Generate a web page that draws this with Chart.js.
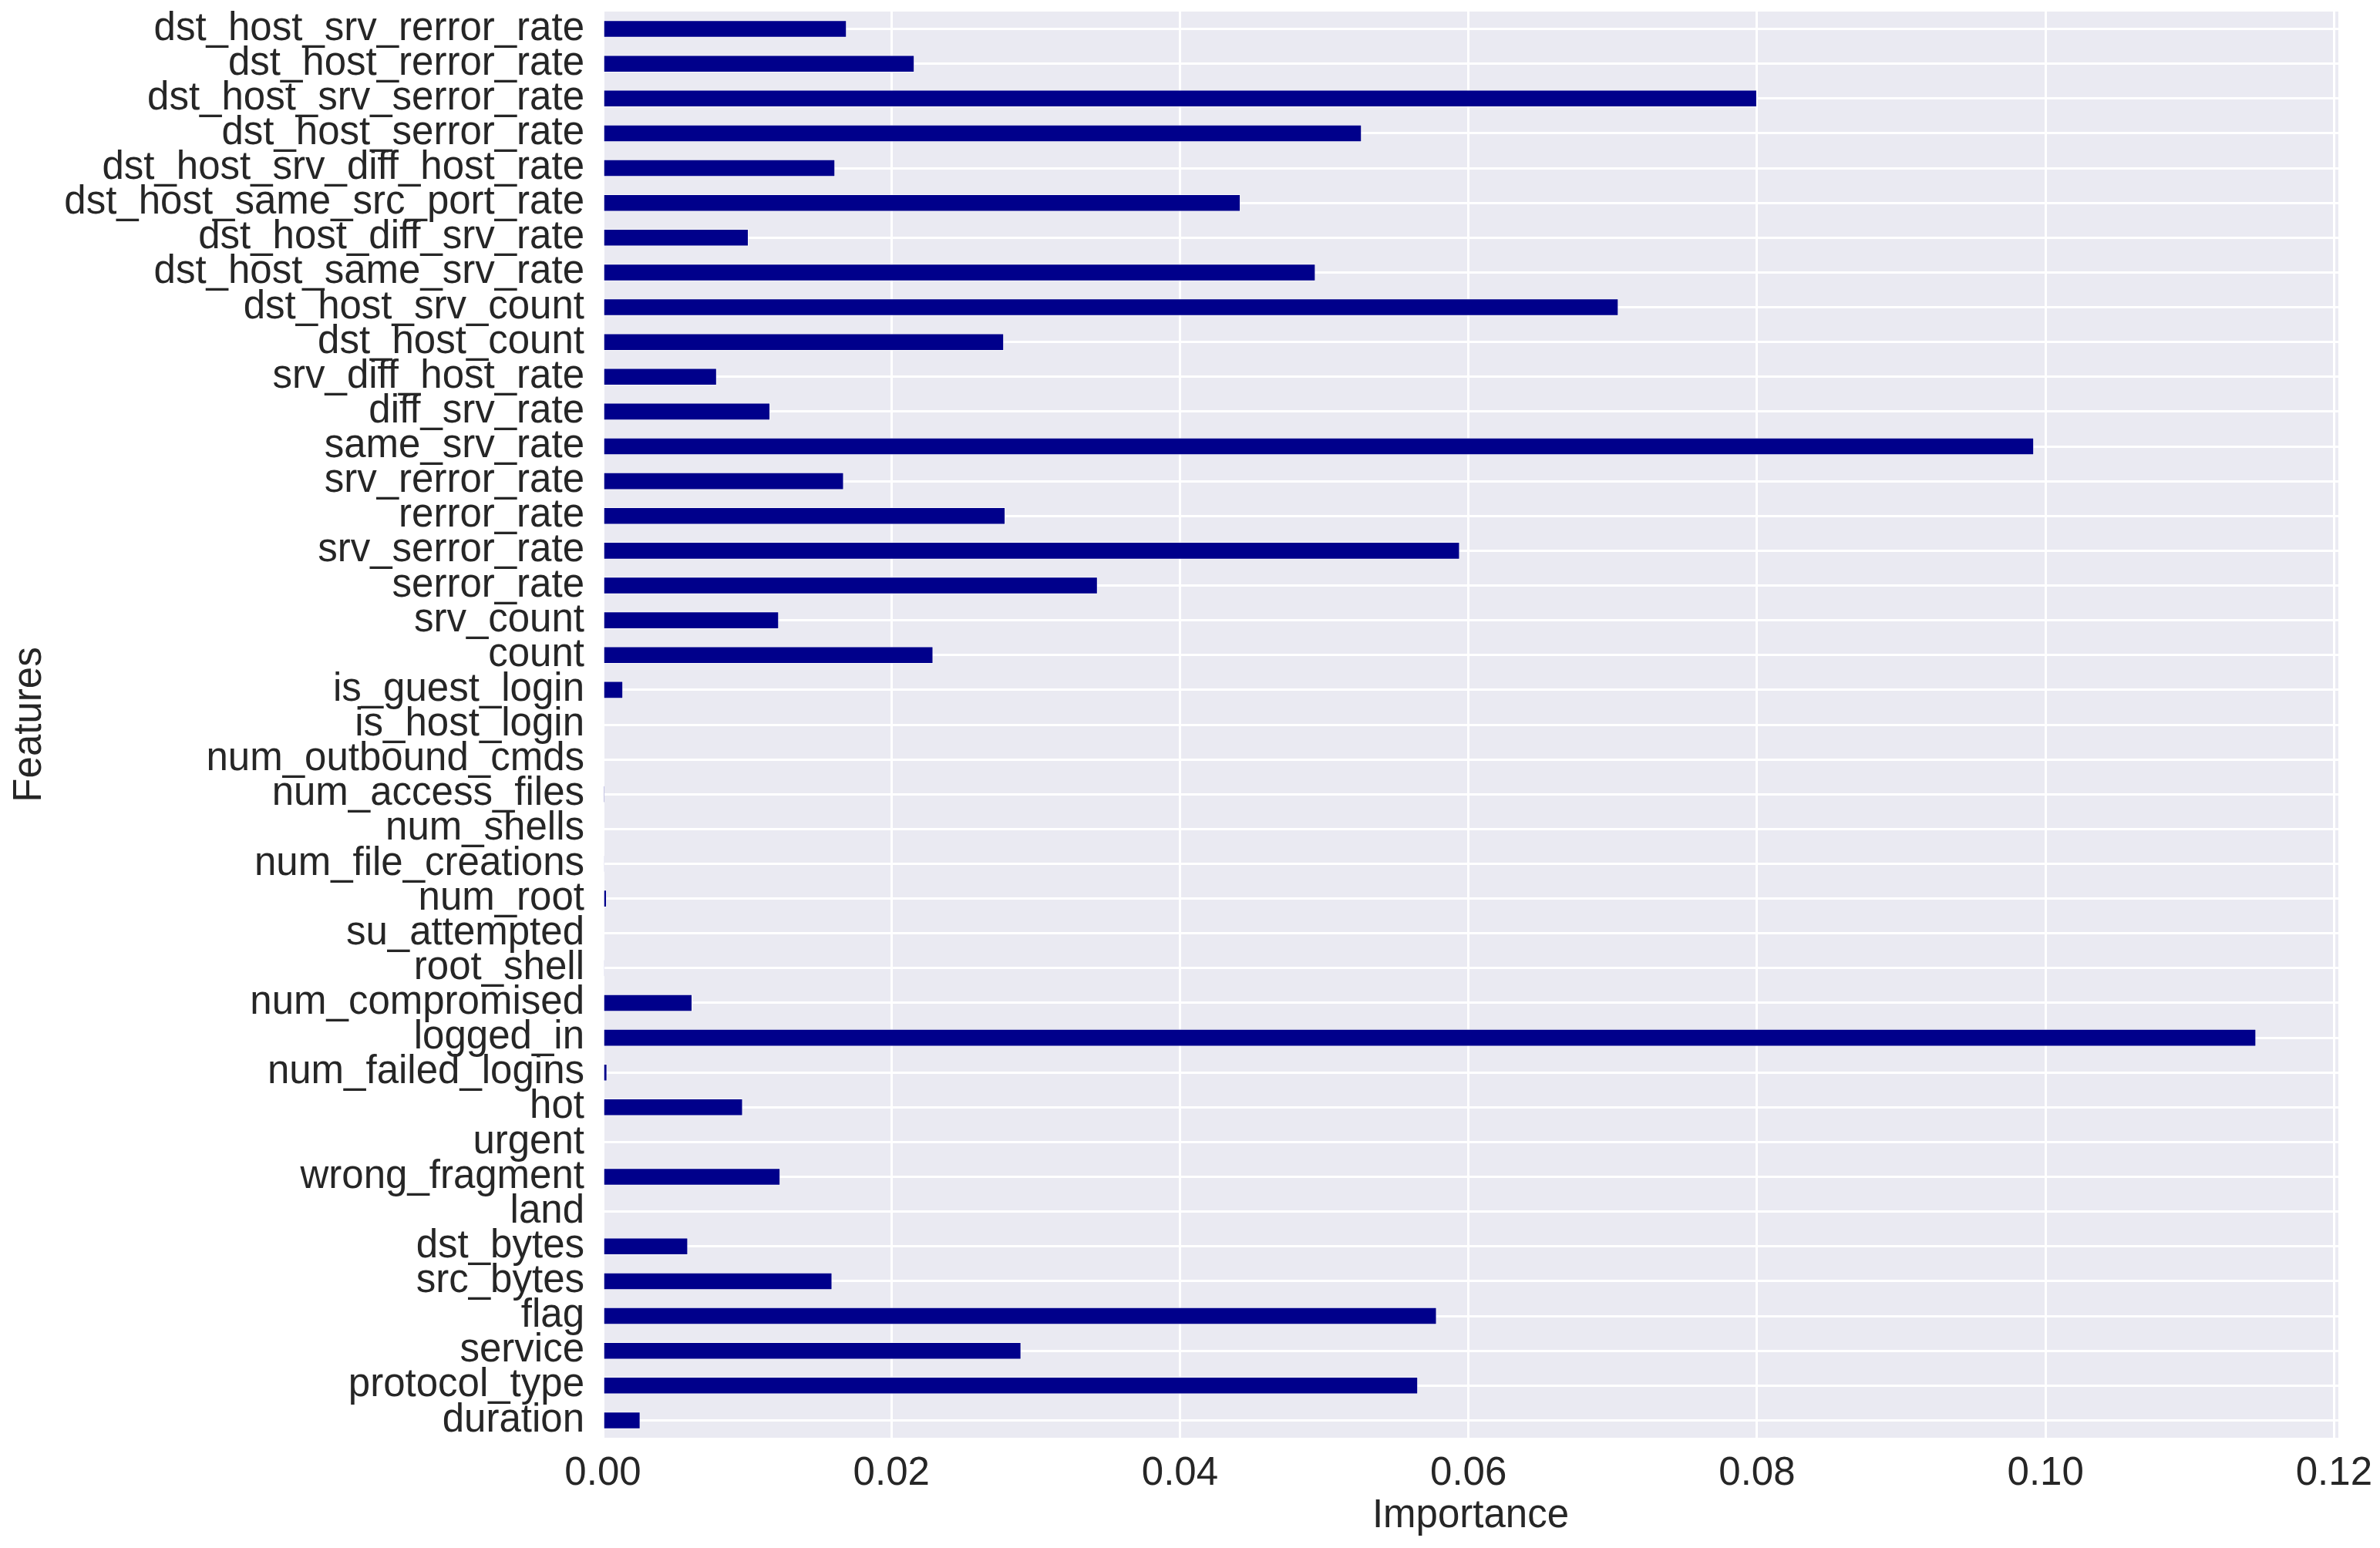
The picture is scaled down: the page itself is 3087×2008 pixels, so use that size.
<!DOCTYPE html>
<html>
<head>
<meta charset="utf-8">
<script src="https://cdn.jsdelivr.net/npm/chart.js@4"></script>
<style>
  html, body { margin: 0; padding: 0; background: #fff; }
  #wrap { width: 3087px; height: 2008px; }
</style>
</head>
<body>
<div id="wrap"><canvas id="myChart" width="3087" height="2008"></canvas></div>
<script>
// features listed from bottom (duration) to top
var features = ['duration', 'protocol_type', 'service', 'flag', 'src_bytes', 'dst_bytes', 'land',
  'wrong_fragment', 'urgent', 'hot', 'num_failed_logins', 'logged_in', 'num_compromised',
  'root_shell', 'su_attempted', 'num_root', 'num_file_creations', 'num_shells',
  'num_access_files', 'num_outbound_cmds', 'is_host_login', 'is_guest_login', 'count',
  'srv_count', 'serror_rate', 'srv_serror_rate', 'rerror_rate', 'srv_rerror_rate',
  'same_srv_rate', 'diff_srv_rate', 'srv_diff_host_rate', 'dst_host_count',
  'dst_host_srv_count', 'dst_host_same_srv_rate', 'dst_host_diff_srv_rate',
  'dst_host_same_src_port_rate', 'dst_host_srv_diff_host_rate', 'dst_host_serror_rate',
  'dst_host_srv_serror_rate', 'dst_host_rerror_rate', 'dst_host_srv_rerror_rate'];

var importance = [0.0026, 0.0565, 0.0290, 0.0578, 0.0159, 0.0059, 0.0,
  0.0123, 0.0, 0.0097, 0.0003, 0.1146, 0.0062,
  0.0001, 0.0, 0.00027, 0.0001, 0.0,
  0.00003, 0.0, 0.0, 0.0014, 0.0229,
  0.0122, 0.0343, 0.0594, 0.0279, 0.0167,
  0.0992, 0.0116, 0.0079, 0.0278,
  0.0704, 0.0494, 0.0101,
  0.0442, 0.0161, 0.0526,
  0.0800, 0.0216, 0.0169];

var xTicks = [0, 0.02, 0.04, 0.06, 0.08, 0.10, 0.12];

var bgPlugin = {
  id: 'plotBg',
  beforeDraw: function(chart) {
    var a = chart.chartArea, ctx = chart.ctx;
    ctx.save();
    ctx.fillStyle = '#EAEAF2';
    ctx.fillRect(a.left, a.top, a.right - a.left, a.bottom - a.top);
    ctx.restore();
  }
};

var font = { family: 'Liberation Sans', size: 51 };

var ctx = document.getElementById('myChart');
var barGraph = new Chart(ctx, {
  type: 'bar',
  data: {
    labels: features,
    datasets: [{
      label: 'Importance',
      data: importance,
      backgroundColor: '#00008B',
      borderColor: 'rgba(255,255,255,0.6)',
      borderWidth: 1,
      barPercentage: 0.5,
      categoryPercentage: 1.0
    }]
  },
  options: {
    indexAxis: 'y',
    responsive: false,
    animation: false,
    devicePixelRatio: 1,
    layout: { padding: { top: 15, right: 54, left: 0, bottom: 0 } },
    plugins: { legend: { display: false }, tooltip: { enabled: false } },
    scales: {
      x: {
        type: 'linear',
        min: 0,
        max: 0.1203,
        afterBuildTicks: function(scale) {
          scale.ticks = xTicks.map(function(v) { return { value: v }; });
        },
        afterFit: function(scale) {
          scale.height = 143;
          scale.paddingLeft = 0;
          scale.paddingRight = 0;
        },
        border: { display: false },
        grid: { color: '#FFFFFF', lineWidth: 3, drawTicks: false },
        ticks: {
          color: '#262626',
          padding: 16,
          font: font,
          callback: function(v) { return v.toFixed(2); }
        },
        title: {
          display: true,
          text: 'Importance',
          color: '#262626',
          padding: { top: 0, bottom: 10 },
          font: font
        }
      },
      y: {
        reverse: true,
        afterFit: function(scale) {
          scale.width = 782;
          scale.paddingTop = 0;
          scale.paddingBottom = 0;
        },
        border: { display: false },
        grid: { color: '#FFFFFF', lineWidth: 3, drawTicks: false, offset: false },
        ticks: {
          color: '#262626',
          padding: 24,
          autoSkip: false,
          font: font
        },
        title: {
          display: true,
          text: 'Features',
          color: '#262626',
          padding: { top: 8, bottom: 0 },
          font: font
        }
      }
    }
  },
  plugins: [bgPlugin]
});
</script>
</body>
</html>
